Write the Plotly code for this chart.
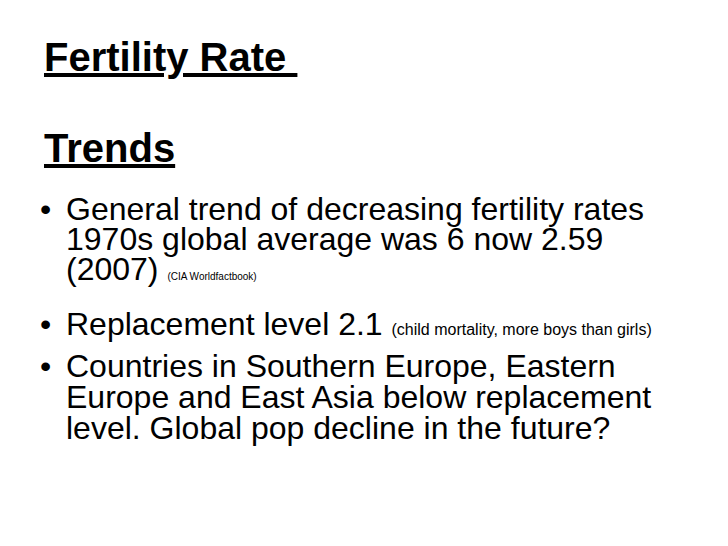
import plotly.graph_objects as go

# slide text
titles = ["Fertility Rate\u00a0", "Trends"]
title_y = [57, 148]

bullet_lines = [
    ["General trend of decreasing fertility rates",
     "1970s global average was 6 now 2.59",
     "(2007)"],
    ["Replacement level 2.1"],
    ["Countries in Southern Europe, Eastern",
     "Europe and East Asia below replacement",
     "level. Global pop decline in the future?"],
]
bullet_notes = ["(CIA Worldfactbook)", "(child mortality, more boys than girls)", ""]
note_sizes = [10, 16, 0]
bullet_y = [[209, 239, 269], [324], [366, 397, 428]]

FONT = "Liberation Sans, Arial, sans-serif"

fig = go.Figure()

annotations = []
for t, y in zip(titles, title_y):
    annotations.append(dict(
        x=42, y=y, text=f"<b><u>{t}</u></b>",
        font=dict(family=FONT, size=40, color="black"),
    ))

for lines, note, nsize, ys in zip(bullet_lines, bullet_notes, note_sizes, bullet_y):
    annotations.append(dict(
        x=38, y=ys[0], text="\u2022",
        font=dict(family=FONT, size=32, color="black"),
    ))
    for i, (line, y) in enumerate(zip(lines, ys)):
        txt = line
        if i == len(lines) - 1 and note:
            txt += f" <span style='font-size:{nsize}px'>{note}</span>"
        annotations.append(dict(
            x=64, y=y, text=txt,
            font=dict(family=FONT, size=32, color="black"),
        ))

for a in annotations:
    a.update(xref="x", yref="y", xanchor="left", yanchor="middle",
             showarrow=False, align="left")

fig.update_layout(
    width=728, height=546,
    margin=dict(l=0, r=0, t=0, b=0),
    paper_bgcolor="white", plot_bgcolor="white",
    xaxis=dict(range=[0, 728], visible=False, fixedrange=True),
    yaxis=dict(range=[546, 0], visible=False, fixedrange=True),
    annotations=annotations,
    showlegend=False,
)

fig.write_html("out.html", config={"displayModeBar": False},
               post_script="document.body.style.margin='0';")
